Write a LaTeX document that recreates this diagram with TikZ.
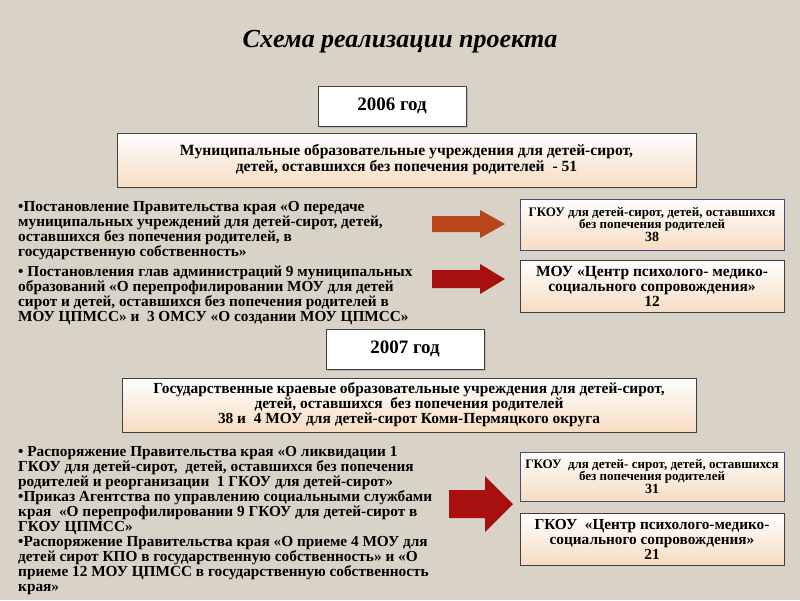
\documentclass[tikz,border=0pt]{standalone}
\usepackage{fontspec}
\setmainfont{Liberation Serif}
\usetikzlibrary{shadows}
\definecolor{bg}{HTML}{D9D3C7}
\definecolor{peach}{HTML}{F6DCC2}
\definecolor{arrA}{HTML}{B8461C}
\definecolor{arrB}{HTML}{A8100F}
\definecolor{frameblue}{HTML}{4A4A78}
\tikzset{
 gbox/.style={draw=black!75,line width=0.8pt,top color=white,bottom color=peach,align=center,font=\bfseries,inner sep=2pt},
 ybox/.style={draw=black!75,line width=0.8pt,fill=white,drop shadow={shadow xshift=2pt,shadow yshift=-2pt,fill=black!40},font=\bfseries\fontsize{19}{21}\selectfont},
 ltext/.style={anchor=north west,align=left,font=\bfseries\fontsize{15.3}{15}\selectfont,inner sep=0pt}
}
\begin{document}
\begin{tikzpicture}[x=1pt,y=-1pt]
\fill[bg] (0,0) rectangle (800,600);
\useasboundingbox (0,0) rectangle (800,600);
\node[font=\bfseries\itshape\fontsize{26}{28}\selectfont] (title) at (400,42) {Схема реализации проекта};

\node[ybox,minimum width=148,minimum height=40] (y2006) at (392,106) {2006 год};
\node[gbox,minimum width=579,minimum height=54,font=\bfseries\fontsize{15.6}{16}\selectfont] (mun) at (406.5,160) {Муниципальные образовательные учреждения для детей-сирот,\\ детей, оставшихся без попечения родителей \ - 51};

\node[ltext] (t1) at (18,201) {•Постановление Правительства края «О передаче\\ муниципальных учреждений для детей-сирот, детей,\\ оставшихся без попечения родителей, в\\ государственную собственность»};
\node[ltext] (t2) at (18,266) {• Постановления глав администраций 9 муниципальных\\ образований «О перепрофилировании МОУ для детей\\ сирот и детей, оставшихся без попечения родителей в\\ МОУ ЦПМСС» и \ 3 ОМСУ «О создании МОУ ЦПМСС»};

\node[gbox,draw=frameblue,minimum width=264,minimum height=51,font=\bfseries\fontsize{13}{12.5}\selectfont] (gkou38) at (652,224.5) {ГКОУ для детей-сирот, детей, оставшихся\\ без попечения родителей\\ {\fontsize{14}{14}\selectfont 38}};
\node[gbox,minimum width=264,minimum height=52,font=\bfseries\fontsize{15.5}{15}\selectfont] (mou12) at (652,286) {МОУ «Центр психолого- медико-\\ социального сопровождения»\\ 12};

\fill[arrA] (432,216) -- (480,216) -- (480,210) -- (505,224) -- (480,238) -- (480,232) -- (432,232) -- cycle;
\fill[arrB] (432,270) -- (480,270) -- (480,264) -- (505,279) -- (480,294) -- (480,288) -- (432,288) -- cycle;

\node[ybox,minimum width=158,minimum height=40] (y2007) at (405,349) {2007 год};
\node[gbox,minimum width=574,minimum height=54,font=\bfseries\fontsize{15.4}{15}\selectfont] (state) at (409,405) {Государственные краевые образовательные учреждения для детей-сирот,\\ детей, оставшихся \ без попечения родителей\\ 38 и \ 4 МОУ для детей-сирот Коми-Пермяцкого округа};

\node[ltext,font=\bfseries\fontsize{15.3}{15}\selectfont] (t3) at (18,446) {• Распоряжение Правительства края «О ликвидации 1\\ ГКОУ для детей-сирот, \ детей, оставшихся без попечения\\ родителей и реорганизации \ 1 ГКОУ для детей-сирот»\\ •Приказ Агентства по управлению социальными службами\\ края \ «О перепрофилировании 9 ГКОУ для детей-сирот в\\ ГКОУ ЦПМСС»\\ •Распоряжение Правительства края «О приеме 4 МОУ для\\ детей сирот КПО в государственную собственность» и «О\\ приеме 12 МОУ ЦПМСС в государственную собственность\\ края»};

\node[gbox,draw=frameblue,minimum width=264,minimum height=49,font=\bfseries\fontsize{13}{12.5}\selectfont] (gkou31) at (652,476.5) {ГКОУ \ для детей- сирот, детей, оставшихся\\ без попечения родителей\\ {\fontsize{14}{14}\selectfont 31}};
\node[gbox,minimum width=264,minimum height=52,font=\bfseries\fontsize{15.3}{15}\selectfont] (c21) at (652,539) {ГКОУ \ «Центр психолого-медико-\\ социального сопровождения»\\ 21};
\fill[arrB] (449,490) -- (485,490) -- (485,476) -- (513,504) -- (485,532) -- (485,518) -- (449,518) -- cycle;
\end{tikzpicture}
\end{document}
